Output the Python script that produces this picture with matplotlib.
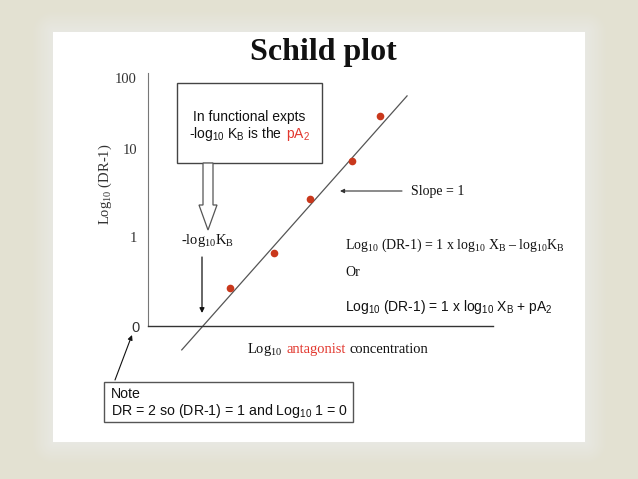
import numpy as np
import matplotlib
matplotlib.use("Agg")
import matplotlib.pyplot as plt
from matplotlib.patches import Rectangle, Polygon

plt.rcParams['mathtext.fontset'] = 'custom'
plt.rcParams['mathtext.rm'] = 'Liberation Serif'
plt.rcParams['mathtext.sf'] = 'Liberation Sans'
plt.rcParams['mathtext.it'] = 'Liberation Serif:italic'
plt.rcParams['mathtext.bf'] = 'Liberation Serif:bold'

# data (log units)
pts_x = [1.04, 1.60, 2.06, 2.60, 2.96]
pts_y = [0.43, 0.82, 1.44, 1.86, 2.37]
line_x = [0.43, 3.30]
line_y = [-0.27, 2.60]
ytick_pos = [0.0, 1.0, 2.0, 2.8]
ytick_labels = ['0', '1', '10', '100']

W, H = 638, 479
SERIF = 'Liberation Serif'
SANS = 'Liberation Sans'
RED = '#e2382f'
INK = '#111111'

fig = plt.figure(figsize=(W / 100, H / 100), dpi=100)

# background: beige slide with a faint light halo round the white panel
bg = fig.add_axes([0, 0, 1, 1], zorder=0)
yy, xx = np.mgrid[0:H, 0:W]
dx = np.maximum(np.maximum(53 - xx, xx - 585), 0)
dy = np.maximum(np.maximum(32 - yy, yy - 442), 0)
d = np.hypot(dx, dy)
t = np.clip(d / 22.0, 0, 1)[..., None]
light = np.array([232, 232, 226]) / 255.0
beige = np.array([227, 225, 210]) / 255.0
img = light * (1 - t) + beige * t
bg.imshow(img, extent=(0, W, H, 0), aspect='auto')
bg.add_patch(Rectangle((53, 32), 532, 410, facecolor='white', edgecolor='none'))
bg.set_xlim(0, W)
bg.set_ylim(H, 0)
bg.axis('off')

# main axes
L, R, T, B = 148, 493, 73, 326
ax = fig.add_axes([L / W, 1 - B / H, (R - L) / W, (B - T) / H], zorder=1)
ax.patch.set_alpha(0)
ax.set_xlim(0, (R - L) / 78.5)
ax.set_ylim(0, (B - T) / 88.5)
for s in ['top', 'right']:
    ax.spines[s].set_visible(False)
ax.spines['left'].set_color('#777777')
ax.spines['left'].set_linewidth(0.8)
ax.spines['bottom'].set_color('#333333')
ax.spines['bottom'].set_linewidth(1.0)
ax.set_xticks([])
ax.set_yticks(ytick_pos, labels=ytick_labels)
ax.tick_params(axis='y', length=0, pad=8, labelsize=10.5, labelcolor='#333333')
for lab in ax.get_yticklabels():
    lab.set_fontfamily(SERIF)
ax.get_yticklabels()[0].set_fontfamily(SANS)
ax.get_yticklabels()[0].set_x(0.009)

ax.plot(line_x, line_y, color='#555555', lw=0.9, clip_on=False)
ax.plot(pts_x, pts_y, 'o', color='#c9381c', ms=5.5, mec='none', clip_on=False)

# overlay in pixel coordinates for the annotations
ov = fig.add_axes([0, 0, 1, 1], zorder=2)
ov.patch.set_alpha(0)
ov.set_xlim(0, W)
ov.set_ylim(H, 0)
ov.axis('off')

ov.text(323, 52, 'Schild plot', fontsize=23, fontweight='bold', family=SERIF,
        ha='center', va='center', color=INK)

ov.text(105, 184, r'Log$_\mathrm{10}$ (DR-1)', rotation=90, fontsize=10.5,
        family=SERIF, ha='center', va='center', color='#333333')

# x label with red word
t1 = ov.text(247, 353, r'Log$_\mathrm{10}$', fontsize=10.5, family=SERIF,
             ha='left', va='baseline', color=INK)
t2 = ov.annotate('antagonist', xy=(1, 353), xycoords=(t1, 'data'),
                 xytext=(2.6, 0), textcoords='offset points', fontsize=10.5,
                 family=SERIF, ha='left', va='baseline', color=RED)
ov.annotate('concentration', xy=(1, 353), xycoords=(t2, 'data'),
            xytext=(2.6, 0), textcoords='offset points', fontsize=10.5,
            family=SERIF, ha='left', va='baseline', color=INK)

# top box
ov.add_patch(Rectangle((177, 83), 145, 80, facecolor='white', edgecolor='#444444', lw=1))
ov.text(249.5, 121, 'In functional expts', fontsize=10, family=SANS,
        ha='center', va='baseline', color=INK)
b1 = ov.text(189, 138, r'-log$_\mathsf{10}$ K$_\mathsf{B}$ is the', fontsize=10,
             family=SANS, ha='left', va='baseline', color=INK)
ov.annotate(r'pA$_\mathsf{2}$', xy=(1, 138), xycoords=(b1, 'data'),
            xytext=(2.8, 0), textcoords='offset points', fontsize=10,
            family=SANS, ha='left', va='baseline', color=RED)

# hollow arrow from the box
ov.add_patch(Polygon([(203, 163), (213, 163), (213, 205), (217, 205), (208, 230),
                      (199, 205), (203, 205)], closed=True, facecolor='white',
                     edgecolor='#555555', lw=0.9))

ov.text(208, 244, r'-log$_\mathrm{10}$K$_\mathrm{B}$', fontsize=10.5, family=SERIF,
        ha='center', va='baseline', color=INK)
ov.annotate('', xy=(202, 313), xytext=(202, 257),
            arrowprops=dict(arrowstyle='-|>', color=INK, lw=0.9,
                            mutation_scale=7, shrinkA=0, shrinkB=0))

# slope label
ov.annotate('', xy=(340, 191), xytext=(402, 191),
            arrowprops=dict(arrowstyle='-|>', color='#333333', lw=0.8,
                            mutation_scale=6, shrinkA=0, shrinkB=0))
ov.text(411, 195, 'Slope = 1', fontsize=10, family=SERIF, ha='left',
        va='baseline', color=INK)

# equations
ov.text(345, 249, r'Log$_\mathrm{10}$ (DR-1) = 1 x log$_\mathrm{10}$ X$_\mathrm{B}$ – log$_\mathrm{10}$K$_\mathrm{B}$',
        fontsize=10, family=SERIF, ha='left', va='baseline', color=INK)
ov.text(345, 276, 'Or', fontsize=10, family=SERIF, ha='left', va='baseline', color=INK)
ov.text(345, 311, r'Log$_\mathsf{10}$ (DR-1) = 1 x log$_\mathsf{10}$ X$_\mathsf{B}$ + pA$_\mathsf{2}$',
        fontsize=10, family=SANS, ha='left', va='baseline', color=INK)

# note box
ov.add_patch(Rectangle((104, 382), 249, 40, facecolor='white', edgecolor='#555555', lw=1))
ov.text(111, 398, 'Note', fontsize=10.2, family=SANS, ha='left', va='baseline', color=INK)
ov.text(111, 415, r'DR = 2 so (DR-1) = 1 and Log$_\mathsf{10}$ 1 = 0', fontsize=10.2,
        family=SANS, ha='left', va='baseline', color=INK)
ov.annotate('', xy=(132, 335), xytext=(115, 380),
            arrowprops=dict(arrowstyle='-|>', color=INK, lw=0.8,
                            mutation_scale=7, shrinkA=0, shrinkB=0))

fig.savefig('out.png', dpi=100)
